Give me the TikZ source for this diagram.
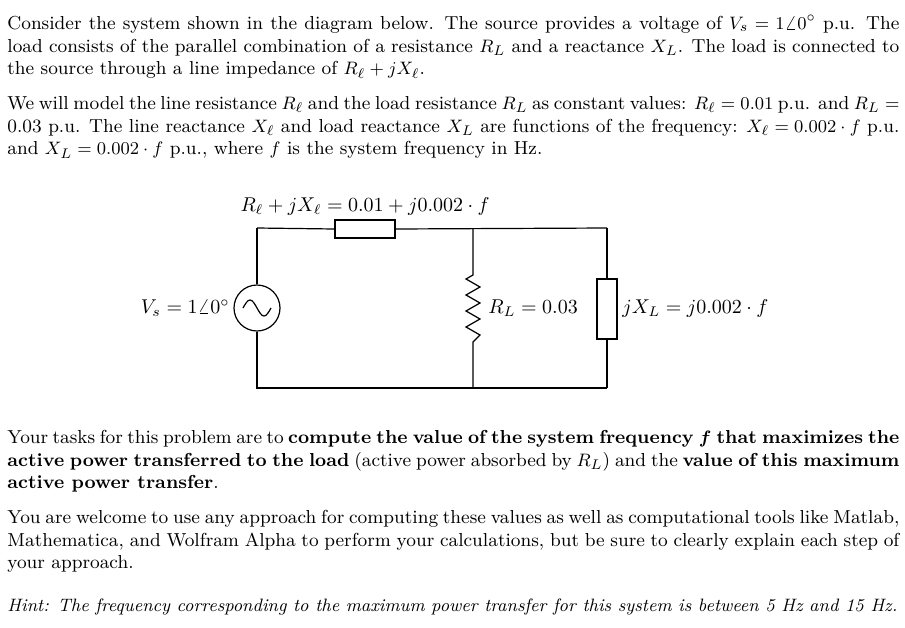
\documentclass[tikz,border=0pt]{standalone}
\usepackage{amsmath}
\usepackage{graphicx}
\usetikzlibrary{calc}
\newcommand\parsetup{\hyphenpenalty=10000\relax}
\begin{document}
\begin{tikzpicture}[x=0.5pt,y=-0.5pt,
  para/.style={anchor=north west,text width=446pt,align=justify,inner sep=0pt,font=\fontsize{9.4}{11.3}\selectfont\parsetup},
  wire/.style={line width=0.6pt},
  lbl/.style={inner sep=1pt,font=\fontsize{9.6}{12}\selectfont}]
\useasboundingbox (0,0) rectangle (905,627);
\node[para] (p1) at (7,15) {Consider the system shown in the diagram below. The source provides a voltage of $V_s=1\angle 0^\circ$ p.u. The\linebreak load consists of the parallel combination of a resistance $R_L$ and a reactance $X_L$. The load is connected to\linebreak the source through a line impedance of $R_\ell+jX_\ell$.};
\node[para] (p2) at (7,96) {We will model the line resistance $R_\ell$ and the load resistance $R_L$ as constant values: $R_\ell=0.01$ p.u. and $R_L=$\linebreak 0.03 p.u. The line reactance $X_\ell$ and load reactance $X_L$ are functions of the frequency: $X_\ell=0.002\cdot f$ p.u.\linebreak and $X_L=0.002\cdot f$ p.u., where $f$ is the system frequency in Hz.};
\node[para] (p3) at (7,430) {Your tasks for this problem are to \textbf{compute the value of the system frequency $\boldsymbol{f}$ that maximizes the\linebreak active power transferred to the load} (active power absorbed by $R_L$) and the \textbf{value of this maximum\linebreak active power transfer}.};
\node[para] (p4) at (7,510) {You are welcome to use any approach for computing these values as well as computational tools like Matlab,\linebreak Mathematica, and Wolfram Alpha to perform your calculations, but be sure to clearly explain each step of\linebreak your approach.};
\node[anchor=north west,inner sep=0pt] (p5) at (7,598) {\resizebox{445pt}{!}{\fontsize{9.4}{11.3}\selectfont\textit{Hint: The frequency corresponding to the maximum power transfer for this system is between 5 Hz and 15 Hz.}}};
% circuit
\coordinate (tl) at (257,228); \coordinate (tm) at (473,228); \coordinate (tr) at (607,228);
\coordinate (bl) at (257,388); \coordinate (bm) at (473,388); \coordinate (br) at (607,388);
\node[draw,wire,minimum width=30pt,minimum height=9pt,inner sep=0pt] (rl) at (365,229) {};
\node[draw,wire,circle,minimum size=23pt,inner sep=0pt] (src) at (257,308) {};
\draw[wire] ($(src.center)+(-14,0)$) sin ($(src.center)+(-7,-8)$) cos (src.center) sin ($(src.center)+(7,8)$) cos ($(src.center)+(14,0)$);
\node[draw,wire,minimum width=10pt,minimum height=30pt,inner sep=0pt] (xl) at (607,309) {};
\coordinate (ra) at (473,275); \coordinate (rb) at (473,342);
\draw[wire] (tl) -- (rl.west); \draw[wire] (rl.east) -- (tr);
\draw[wire] (tl) -- (src.north); \draw[wire] (src.south) -- (bl) -- (br);
\draw[wire] (tr) -- (xl.north); \draw[wire] (xl.south) -- (br);
\draw[wire] (tm) -- (ra) -- ++(-7,4) -- ++(14,8) -- ++(-14,8) -- ++(14,8) -- ++(-14,8) -- ++(14,8) -- ++(-14,8) -- ++(14,8) -- (rb) -- (bm);
\node[lbl] (lt) at (365,206) {$R_\ell+jX_\ell=0.01+j0.002\cdot f$};
\node[lbl,anchor=east] (lv) at (232,308) {$V_s=1\angle 0^\circ$};
\node[lbl,anchor=west] (lr) at (486,308) {$R_L=0.03$};
\node[lbl,anchor=west] (lx) at (620,308) {$jX_L=j0.002\cdot f$};
\end{tikzpicture}
\end{document}
